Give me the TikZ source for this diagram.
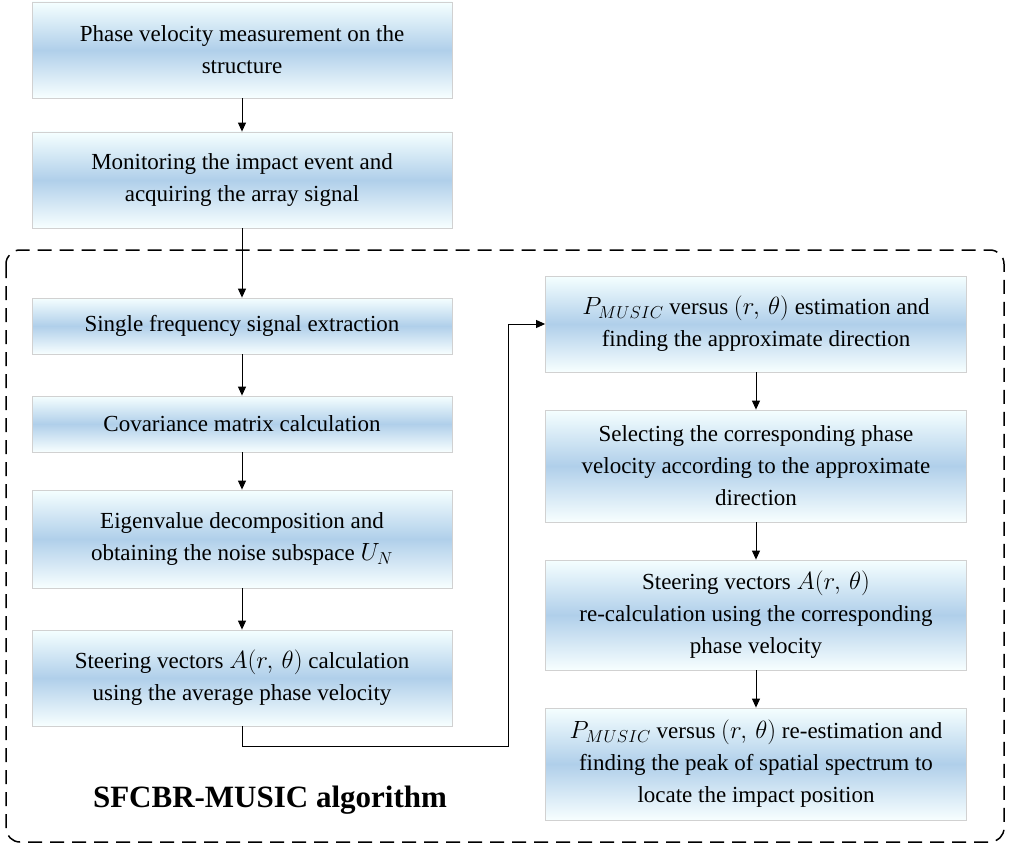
\documentclass[tikz,border=0pt]{standalone}
\usepackage{fontspec}
\setmainfont{Liberation Serif}
\usetikzlibrary{arrows.meta}
\begin{document}
\begin{tikzpicture}[x=1pt,y=-1pt,
 box/.style={draw=black!18,line width=0.8pt,top color=blue!4!cyan!4,bottom color=blue!6!cyan!3,middle color={rgb,255:red,176;green,207;blue,234},minimum width=420pt,align=center,font=\fontsize{23}{32}\selectfont,inner sep=0pt},
 arr/.style={-{Triangle[length=9pt,width=8pt]},line width=1pt}]
\useasboundingbox (0,0) rectangle (1010,848);
\draw[dashed,dash pattern=on 14pt off 8pt,line width=1.5pt,rounded corners=14pt] (6,250) rectangle (1004,842);
\node[box,minimum height=96pt] (b1) at (242,50) {Phase velocity measurement on the\\structure};
\node[box,minimum height=96pt] (b2) at (242,180) {Monitoring the impact event and\\acquiring the array signal};
\node[box,minimum height=56pt] (b3) at (242,326) {Single frequency signal extraction};
\node[box,minimum height=56pt] (b4) at (242,424) {Covariance matrix calculation};
\node[box,minimum height=98pt] (b5) at (242,539) {Eigenvalue decomposition and\\obtaining the noise subspace $U_N$};
\node[box,minimum height=96pt] (b6) at (242,678) {Steering vectors $A(r,\,\theta)$ calculation\\using the average phase velocity};
\node[box,minimum height=96pt,minimum width=421pt] (r1) at (756,324) {$P_{MUSIC}$ versus $(r,\,\theta)$ estimation and\\finding the approximate direction};
\node[box,minimum height=112pt,minimum width=421pt] (r2) at (756,466) {Selecting the corresponding phase\\velocity according to the approximate\\direction};
\node[box,minimum height=110pt,minimum width=421pt] (r3) at (756,615) {Steering vectors $A(r,\,\theta)$\\re-calculation using the corresponding\\phase velocity};
\node[box,minimum height=112pt,minimum width=421pt] (r4) at (756,764) {$P_{MUSIC}$ versus $(r,\,\theta)$ re-estimation and\\finding the peak of spatial spectrum to\\locate the impact position};
\node[font=\bfseries\fontsize{31}{36}\selectfont] (lab) at (270,800) {SFCBR-MUSIC algorithm};
\draw[arr] (b1) -- (b2);
\draw[arr] (b2) -- (b3);
\draw[arr] (b3) -- (b4);
\draw[arr] (b4) -- (b5);
\draw[arr] (b5) -- (b6);
\coordinate (c1) at (242,746);
\coordinate (c2) at (508,746);
\coordinate (c3) at (508,324);
\draw[arr] (b6.south) -- (c1) -- (c2) -- (c3) -- (r1.west);
\draw[arr] (r1) -- (r2);
\draw[arr] (r2) -- (r3);
\draw[arr] (r3) -- (r4);
\end{tikzpicture}
\end{document}
